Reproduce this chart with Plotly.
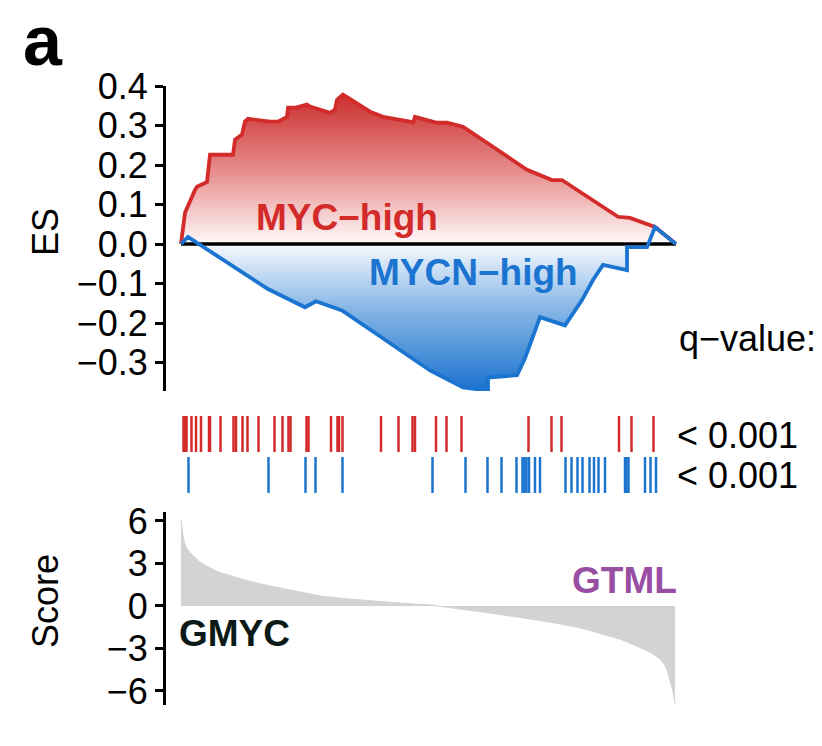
import plotly.graph_objects as go

# ---------------- data (ranks 0..990) ----------------
myc_rank = [0, 8, 28, 32, 52, 58, 104, 108, 122, 128, 134, 178, 194, 212, 214, 228, 252, 258,
            298, 308, 312, 324, 378, 404, 458, 464, 468, 512, 532, 564, 692, 742, 762, 874, 898, 948, 990]
myc_es = [0.000, 0.079, 0.137, 0.145, 0.157, 0.226, 0.226, 0.264, 0.277, 0.310, 0.317, 0.310, 0.310,
          0.322, 0.345, 0.345, 0.353, 0.348, 0.332, 0.340, 0.365, 0.378, 0.335, 0.322, 0.310, 0.307,
          0.322, 0.307, 0.307, 0.297, 0.188, 0.162, 0.162, 0.069, 0.066, 0.043, 0.000]

mycn_rank = [0, 14, 174, 248, 270, 322, 498, 528, 564, 614, 614, 672, 688, 718, 768, 802, 824, 844,
             892, 892, 932, 948, 990]
mycn_es = [0.000, 0.018, -0.114, -0.160, -0.145, -0.168, -0.320, -0.340, -0.363, -0.371, -0.338,
           -0.332, -0.289, -0.185, -0.206, -0.142, -0.091, -0.053, -0.066, -0.008, -0.008, 0.043, 0.000]

myc_hits = [5, 8, 11, 21, 30, 40, 56, 58, 79, 105, 110, 123, 133, 155, 187, 203, 215, 219, 251, 255,
            300, 313, 316, 323, 400, 435, 463, 468, 510, 531, 561, 695, 741, 761, 876, 901, 945]
mycn_hits = [15, 175, 249, 269, 323, 503, 569, 613, 641, 671, 683, 687, 691, 696, 708, 718, 769, 781,
             793, 803, 817, 826, 835, 848, 888, 891, 895, 928, 939, 950]

score_rank = [0, 2, 4, 7, 11, 17, 25, 36, 51, 75, 111, 140, 178, 230, 278, 330, 378, 440, 498, 555,
              611, 680, 744, 800, 844, 880, 911, 940, 958, 968, 974, 981, 985, 988]
score_val = [6.1, 5.5, 4.94, 4.5, 4.11, 3.8, 3.53, 3.15, 2.82, 2.4, 2.0, 1.72, 1.41, 1.03, 0.71, 0.5,
             0.35, 0.2, 0.07, -0.18, -0.47, -0.82, -1.18, -1.55, -1.98, -2.37, -2.82, -3.3, -3.74,
             -4.2, -4.71, -5.65, -6.2, -6.92]

es_ticks = [-0.3, -0.2, -0.1, 0.0, 0.1, 0.2, 0.3, 0.4]
score_ticks = [-6, -3, 0, 3, 6]

RED = "#D32A2A"
BLUE = "#1B74CF"
FONT = "Liberation Sans, Arial, sans-serif"
W, H = 822, 746


def px(x):
    return x / W


def py(y):
    return 1 - y / H


fig = go.Figure()

# ES fills + curves
fig.add_trace(go.Scatter(x=myc_rank, y=myc_es, mode="lines", fill="tozeroy",
                         fillgradient=dict(type="vertical",
                                           colorscale=[[0, "#FFFAFA"], [0.5, "#E68A8A"], [1, "#CC2E2E"]]),
                         line=dict(width=0), hoverinfo="skip", showlegend=False))
fig.add_trace(go.Scatter(x=mycn_rank, y=mycn_es, mode="lines", fill="tozeroy",
                         fillgradient=dict(type="vertical",
                                           colorscale=[[0, "#1C72CE"], [0.5, "#86B6E6"], [0.9, "#F7FAFE"], [1, "#FFFFFF"]]),
                         line=dict(width=0), hoverinfo="skip", showlegend=False))
fig.add_trace(go.Scatter(x=[0, 990], y=[0, 0], mode="lines", line=dict(color="black", width=3.5),
                         hoverinfo="skip", showlegend=False))
fig.add_trace(go.Scatter(x=myc_rank, y=myc_es, mode="lines", line=dict(color=RED, width=3.8),
                         hoverinfo="skip", showlegend=False))
fig.add_trace(go.Scatter(x=mycn_rank, y=mycn_es, mode="lines", line=dict(color=BLUE, width=3.8),
                         hoverinfo="skip", showlegend=False))


# rug
def rug(hits, lo, hi):
    xs, ys = [], []
    for h in hits:
        xs += [h, h, None]
        ys += [lo, hi, None]
    return xs, ys


rx, ry = rug(myc_hits, 0.537, 0.976)
bx, by = rug(mycn_hits, 0.037, 0.476)
fig.add_trace(go.Scatter(x=rx, y=ry, yaxis="y2", mode="lines", line=dict(color=RED, width=2.5),
                         hoverinfo="skip", showlegend=False))
fig.add_trace(go.Scatter(x=bx, y=by, yaxis="y2", mode="lines", line=dict(color=BLUE, width=2.5),
                         hoverinfo="skip", showlegend=False))

# score
fig.add_trace(go.Scatter(x=score_rank, y=score_val, yaxis="y3", mode="lines", fill="tozeroy",
                         fillcolor="#D3D3D3", line=dict(color="#D3D3D3", width=1),
                         hoverinfo="skip", showlegend=False))

axis_common = dict(showline=True, linecolor="black", linewidth=3, ticks="outside", ticklen=8,
                   tickwidth=2.5, tickcolor="black", showgrid=False, zeroline=False,
                   tickfont=dict(family=FONT, size=36, color="black"))

fig.update_layout(
    width=W, height=H, margin=dict(l=0, r=0, t=0, b=0, autoexpand=False),
    paper_bgcolor="white", plot_bgcolor="white",
    xaxis=dict(domain=[px(166), px(678)], range=[-30, 994], visible=False),
    yaxis=dict(domain=[py(391), py(86)], range=[-0.372, 0.4], tickvals=es_ticks,
               tickformat=".1f", anchor="x", **axis_common),
    yaxis2=dict(domain=[py(496), py(414)], range=[0, 1], visible=False, anchor="x"),
    yaxis3=dict(domain=[py(705), py(512)], range=[-6.99, 6.63], tickvals=score_ticks,
                anchor="x", **axis_common),
)

ann = [
    dict(text="<b>a</b>", x=px(43), y=py(0), size=70, color="black", xa="center", ya="top"),
    dict(text="ES", x=px(45), y=py(232), size=36, color="black", xa="center", angle=-90),
    dict(text="Score", x=px(45), y=py(601), size=36, color="black", xa="center", angle=-90),
    dict(text="<b>MYC−high</b>", x=px(347), y=py(217), size=37, color=RED, xa="center"),
    dict(text="<b>MYCN−high</b>", x=px(473), y=py(272), size=37, color=BLUE, xa="center"),
    dict(text="q−value:", x=px(818), y=py(338), size=36, color="black", xa="right"),
    dict(text="< 0.001", x=px(675), y=py(435), size=36, color="black", xa="left"),
    dict(text="< 0.001", x=px(675), y=py(475), size=36, color="black", xa="left"),
    dict(text="<b>GMYC</b>", x=px(177), y=py(633), size=37, color="#0B1A16", xa="left"),
    dict(text="<b>GTML</b>", x=px(679), y=py(580), size=37, color="#984EA3", xa="right"),
]
for a in ann:
    fig.add_annotation(text=a["text"], x=a["x"], y=a["y"], xref="paper", yref="paper",
                       xanchor=a["xa"], yanchor=a.get("ya", "middle"), showarrow=False,
                       textangle=a.get("angle", 0),
                       font=dict(family=FONT, size=a["size"], color=a["color"]))

fig.write_html("out.html")
